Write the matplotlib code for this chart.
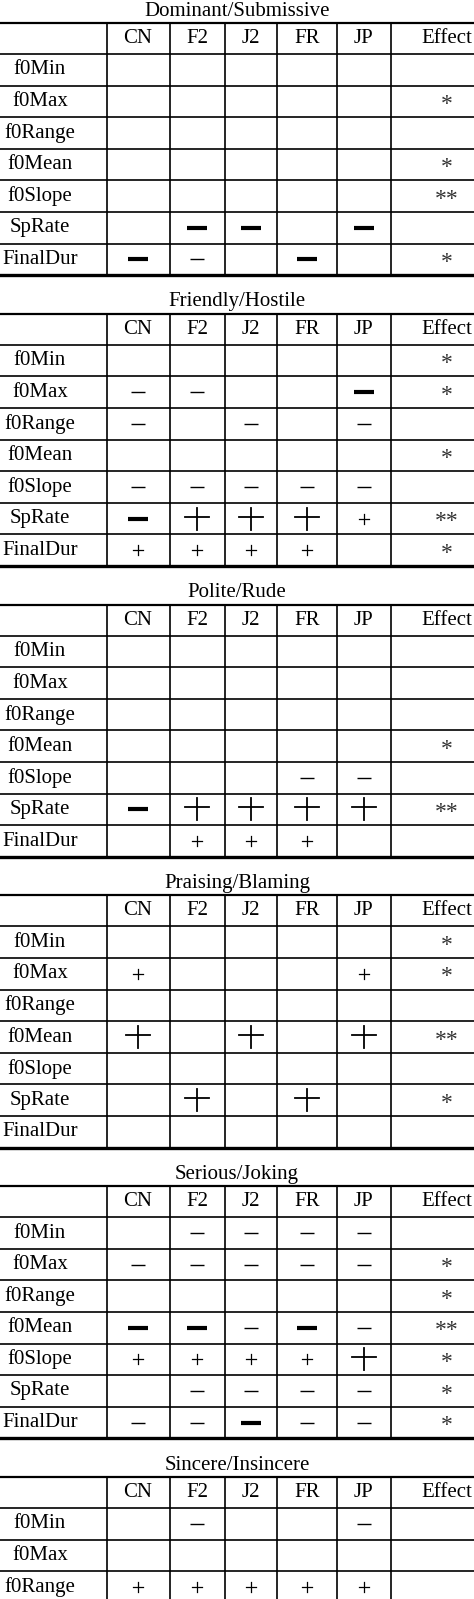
import matplotlib
matplotlib.use("Agg")
import matplotlib.pyplot as plt

titles = ["Dominant/Submissive", "Friendly/Hostile", "Polite/Rude",
          "Praising/Blaming", "Serious/Joking", "Sincere/Insincere"]
columns = ["CN", "F2", "J2", "FR", "JP", "Effect"]
features = ["f0Min", "f0Max", "f0Range", "f0Mean", "f0Slope", "SpRate", "FinalDur"]
# codes: '' none, 'm' minus, 'M' strong minus, 'p' plus, 'P' strong plus
dominant = [["", "", "", "", "", ""], ["", "", "", "", "", "*"], ["", "", "", "", "", ""],
            ["", "", "", "", "", "*"], ["", "", "", "", "", "**"], ["", "M", "M", "", "M", ""],
            ["M", "m", "", "M", "", "*"]]
friendly = [["", "", "", "", "", "*"], ["m", "m", "", "", "M", "*"], ["m", "", "m", "", "m", ""],
            ["", "", "", "", "", "*"], ["m", "m", "m", "m", "m", ""], ["M", "P", "P", "P", "p", "**"],
            ["p", "p", "p", "p", "", "*"]]
polite = [["", "", "", "", "", ""], ["", "", "", "", "", ""], ["", "", "", "", "", ""],
          ["", "", "", "", "", "*"], ["", "", "", "m", "m", ""], ["M", "P", "P", "P", "P", "**"],
          ["", "p", "p", "p", "", ""]]
praising = [["", "", "", "", "", "*"], ["p", "", "", "", "p", "*"], ["", "", "", "", "", ""],
            ["P", "", "P", "", "P", "**"], ["", "", "", "", "", ""], ["", "P", "", "P", "", "*"],
            ["", "", "", "", "", ""]]
serious = [["", "m", "m", "m", "m", ""], ["m", "m", "m", "m", "m", "*"], ["", "", "", "", "", "*"],
           ["M", "M", "m", "M", "m", "**"], ["p", "p", "p", "p", "P", "*"], ["", "m", "m", "m", "m", "*"],
           ["m", "m", "M", "m", "m", "*"]]
sincere = [["", "m", "", "", "m", ""], ["", "", "", "", "", ""], ["p", "p", "p", "p", "p", ""],
           ["", "", "", "", "", ""], ["", "", "", "", "", ""], ["", "", "", "", "", ""],
           ["", "", "", "", "", ""]]
panels = [dominant, friendly, polite, praising, serious, sincere]

W, H = 474, 1599
fig = plt.figure(figsize=(W / 100, H / 100), dpi=100)
ax = fig.add_axes([0, 0, 1, 1])
ax.set_xlim(0, W)
ax.set_ylim(H, 0)
ax.axis("off")

font = dict(family="Liberation Serif", fontsize=15, color="black")
vx = [107, 170, 225, 277, 337, 391]
cx = [138, 197, 251, 307, 364, 447]
label_x = 40
pitch = 290.8
row_h = 31.6

def symbol(x, y, code):
    if code == "m":
        ax.plot([x - 7, x + 7], [y, y], color="black", lw=1.0, solid_capstyle="butt")
    elif code == "M":
        ax.plot([x - 10, x + 10], [y, y], color="black", lw=3.0, solid_capstyle="butt")
    elif code == "p":
        ax.plot([x - 5, x + 5], [y, y], color="black", lw=0.9)
        ax.plot([x, x], [y - 5, y + 5], color="black", lw=0.9)
    elif code == "P":
        ax.plot([x - 12, x + 12], [y - 2, y - 2], color="black", lw=1.3)
        ax.plot([x, x], [y - 11, y + 11], color="black", lw=1.3)

for k, (title, data) in enumerate(zip(titles, panels)):
    top = 23 + k * pitch
    ax.text(237, top - 12, title, ha="center", va="center", **font)
    ax.plot([0, W], [top, top], color="black", lw=1.6)
    hb = top + 31
    ax.plot([0, W], [hb, hb], color="black", lw=1.2)
    for c, name in enumerate(columns):
        ax.text(cx[c], (top + hb) / 2, name, ha="center", va="center", clip_on=True, **font)
    bottom = hb + row_h * len(features)
    for r, feat in enumerate(features):
        y0 = hb + r * row_h
        yc = y0 + row_h / 2
        if yc + 8 > H:
            break
        ax.text(label_x, yc, feat, ha="center", va="center", **font)
        for c, code in enumerate(data[r]):
            if c == 5:
                if code:
                    ax.text(cx[c], yc + 3, code, ha="center", va="center",
                            family="Liberation Serif", fontsize=17, color="#333333")
            else:
                symbol(cx[c], yc, code)
        if r < len(features) - 1:
            ax.plot([0, W], [y0 + row_h, y0 + row_h], color="black", lw=1.2)
    ax.plot([0, W], [bottom, bottom], color="black", lw=2.4)
    for x in vx:
        ax.plot([x, x], [top, bottom], color="black", lw=1.2)

fig.savefig("out.png", dpi=100)
